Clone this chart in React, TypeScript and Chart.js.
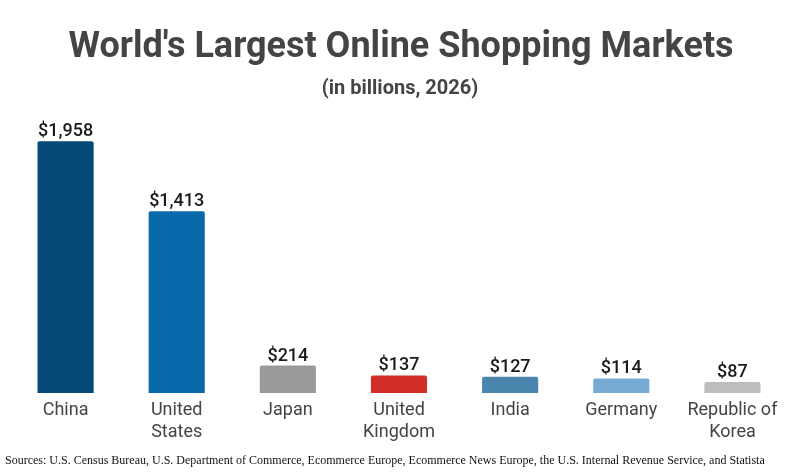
import React, { useEffect, useRef } from "react";
import { Chart, registerables } from "chart.js";

Chart.register(...registerables);

const categories: (string | string[])[] = ["China", ["United", "States"], "Japan", ["United", "Kingdom"], "India", "Germany", ["Republic of", "Korea"]];
const values: number[] = [1958, 1413, 214, 137, 127, 114, 87];
const barColors: string[] = ["#044a77", "#0a69ab", "#9a9a9a", "#d22f29", "#4a85ae", "#76acd4", "#bdbdbd"];
const titleText = "World's Largest Online Shopping Markets";
const subtitleText = "(in billions, 2026)";
const sourceText = "Sources: U.S. Census Bureau, U.S. Department of Commerce, Ecommerce Europe, Ecommerce News Europe, the U.S. Internal Revenue Service, and Statista";

const textPlugin = {
  id: "customText",
  afterDraw(chart: any) {
    const ctx = chart.ctx;
    ctx.save();
    ctx.textAlign = "center";
    ctx.textBaseline = "middle";
    ctx.fillStyle = "#444444";
    ctx.font = "bold 36px Roboto";
    ctx.fillText(titleText, 401, 48);
    ctx.font = "bold 20px Roboto";
    ctx.fillText(subtitleText, 400, 89);
    // data labels
    const meta = chart.getDatasetMeta(0);
    ctx.fillStyle = "#1a1a1a";
    ctx.font = "500 18px Roboto";
    ctx.textBaseline = "alphabetic";
    meta.data.forEach((bar: any, i: number) => {
      ctx.fillText("$" + values[i].toLocaleString("en-US"), bar.x, bar.y - 5);
    });
    ctx.textAlign = "left";
    ctx.fillStyle = "#111111";
    ctx.font = "12px 'Liberation Serif'";
    ctx.textBaseline = "middle";
    ctx.fillText(sourceText, 5, 461);
    ctx.restore();
  },
};

export default function App() {
  const ref = useRef<HTMLCanvasElement>(null);
  useEffect(() => {
    document.body.style.margin = "0";
    const chart = new Chart(ref.current!, {
      type: "bar",
      data: {
        labels: categories,
        datasets: [
          {
            data: values,
            backgroundColor: barColors,
            borderRadius: { topLeft: 2, topRight: 2 },
            borderSkipped: "bottom",
            categoryPercentage: 1,
            barPercentage: 0.505,
          },
        ],
      },
      options: {
        animation: false,
        responsive: false,
        layout: { padding: { top: 110, left: 10, right: 12, bottom: 26 } },
        plugins: { legend: { display: false }, tooltip: { enabled: false } },
        scales: {
          x: {
            grid: { display: false, drawTicks: false },
            border: { display: false },
            ticks: {
              color: "#444444",
              font: { family: "Roboto", size: 18, lineHeight: 1.22 },
              padding: 6,
              maxRotation: 0,
              autoSkip: false,
            },
          },
          y: { display: false, min: 0, max: 2200 },
        },
      },
      plugins: [textPlugin],
    });
    return () => chart.destroy();
  }, []);
  return <canvas ref={ref} width={800} height={475} style={{ display: "block" }} />;
}
